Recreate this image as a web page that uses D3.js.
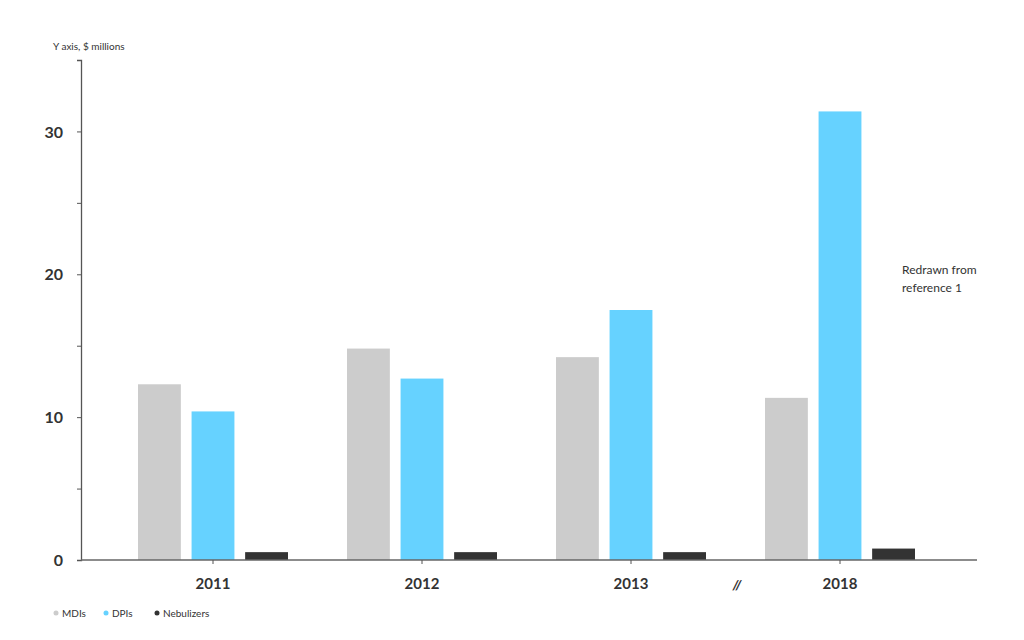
<!DOCTYPE html><html><head><meta charset="utf-8"><script src="https://cdn.jsdelivr.net/npm/d3@7"></script>
<style>body{margin:0;background:#fff}text{font-family:Lato,sans-serif;fill:#333}</style></head><body><svg width="1024" height="640"></svg><script>
const years=["2011","2012","2013","2018"];
const series=["MDIs","DPIs","Nebulizers"];
const mdis=[12.3,14.8,14.2,11.35];
const dpis=[10.4,12.7,17.5,31.4];
const nebs=[0.55,0.55,0.55,0.8];
const colors=["#cccccc","#66d2ff","#333333"];
const yTicks=[0,10,20,30];
const svg=d3.select("svg");
const y=d3.scaleLinear().domain([0,35]).range([560,60]);
const x=d3.scaleBand().domain(years).range([108.5,944.5]);
const xs=d3.scaleBand().domain(series).range([-75,75]).paddingInner(0.2);
const vals=[mdis,dpis,nebs];
series.forEach((s,si)=>{
 svg.append("g").selectAll("rect").data(years).join("rect")
  .attr("x",(d,i)=>x(d)+x.bandwidth()/2+xs(s)).attr("width",xs.bandwidth())
  .attr("y",(d,i)=>y(vals[si][i])).attr("height",(d,i)=>560-y(vals[si][i])).attr("fill",colors[si]);
});
const ya=svg.append("g").attr("transform","translate(81,0)").call(d3.axisLeft(y).tickValues(d3.range(0,36,5)).tickSize(4).tickFormat(d=>yTicks.includes(d)?d:""));
ya.select(".domain").attr("stroke","#555").attr("stroke-width",1.3);
ya.selectAll("line").attr("stroke","#555");
ya.selectAll("text").attr("x",-18).attr("font-size",16).attr("font-weight","bold").attr("fill","#333").attr("dy","0.35em");
svg.append("line").attr("x1",81).attr("x2",977).attr("y1",560).attr("y2",560).attr("stroke","#666").attr("stroke-width",1.3);
const xa=svg.append("g").attr("transform","translate(0,560)").call(d3.axisBottom(x).tickSize(4).tickSizeOuter(0));
xa.select(".domain").remove();
xa.selectAll("line").attr("stroke","#555");
xa.selectAll("text").attr("y",18).attr("font-size",15).attr("font-weight","bold").attr("fill","#333");
svg.append("text").attr("x",737).attr("y",590).attr("text-anchor","middle").attr("font-size",14).attr("font-weight","bold").attr("font-style","italic").text("//");
svg.append("text").attr("x",53).attr("y",50).attr("font-size",10).text("Y axis, $ millions");
svg.append("text").attr("x",902).attr("y",274).attr("font-size",12).text("Redrawn from");
svg.append("text").attr("x",902).attr("y",292).attr("font-size",12).text("reference 1");
const lx=[56,106,157];
series.forEach((s,i)=>{
 svg.append("circle").attr("cx",lx[i]).attr("cy",613).attr("r",2.5).attr("fill",colors[i]);
 svg.append("text").attr("x",lx[i]+6).attr("y",617).attr("font-size",10).text(s);
});
</script></body></html>
